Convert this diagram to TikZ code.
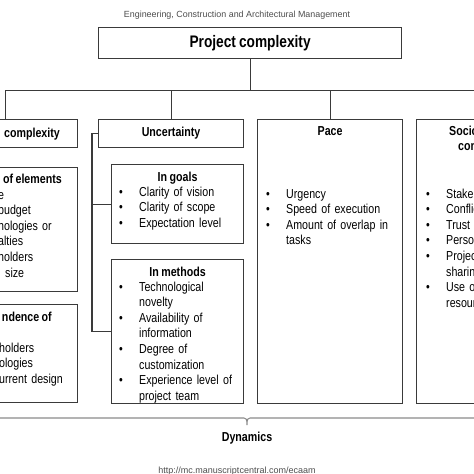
\documentclass[tikz,border=0pt]{standalone}
\usepackage{fontspec}
\setmainfont{Liberation Sans}[FakeStretch=0.82, WordSpace=0.82]
\newfontfamily\plainsans{Liberation Sans}
\usetikzlibrary{positioning}
\definecolor{linegray}{HTML}{3A3A3A}
\definecolor{bracegray}{HTML}{8A8A8A}
\definecolor{textgray}{HTML}{4D4D4D}
\newcommand{\bul}{\makebox[20pt][l]{\textbullet}}
\newcommand{\cont}{\hspace*{20pt}}

\begin{document}
\begin{tikzpicture}[x=1pt,y=-1pt]
	\tikzstyle{box}=[draw=linegray, line width=1.2pt, rectangle, inner sep=0pt, anchor=north west]
	\tikzstyle{head}=[font=\fontsize{13}{15.5}\selectfont\bfseries, inner sep=0pt]
	\tikzstyle{items}=[font=\fontsize{13}{15.6}\selectfont, inner sep=0pt, align=left, text width=130pt, anchor=base west]
	\tikzstyle{link}=[draw=linegray, line width=1.2pt]
	\tikzstyle{brace}=[draw=bracegray, line width=1.1pt]
	\tikzstyle{journal}=[font=\plainsans\fontsize{8.9}{10}\selectfont, text=textgray, inner sep=0pt, anchor=base]

	\useasboundingbox (0,0) rectangle (474,474);
	\clip (0,0) rectangle (474,474);

	\node[journal] (jname) at (237,17.5) {Engineering, Construction and Architectural Management};
	\node[box, minimum width=303pt, minimum height=31pt, font=\fontsize{16.7}{18}\selectfont\bfseries] (proj) at (98,27) {Project complexity};

	% five dimensions
	\node[box, minimum width=145pt, minimum height=28pt] (struct) at (-68,119) {};
	\node[head, anchor=base east] (structhead) at (60,137) {complexity};
	\node[box, minimum width=145pt, minimum height=28pt, head] (unc) at (98,119) {Uncertainty};
	\node[box, minimum width=145pt, minimum height=284pt] (pace) at (257,119) {};
	\node[head, below=7.5pt of pace.north] (pacehead) {Pace};
	\node[box, minimum width=145pt, minimum height=284pt] (social) at (416,119) {};
	\node[head, align=left, text width=60pt, anchor=base west] (socialhead) at (449,135) {Socio\\\hspace*{9pt}comp};

	% structural complexity
	\node[box, minimum width=132pt, minimum height=124pt] (elems) at (-55,167) {};
	\node[head, anchor=base east] (elemshead) at (62,183) {of elements};
	\node[items] (elemslist) at (-2,199) {e\\budget\\nologies or\\alties\\holders\\\hspace*{7pt}size};
	\node[box, minimum width=132pt, minimum height=98pt] (inter) at (-55,304) {};
	\node[head, anchor=base east] (interhead) at (52,321) {ndence of};
	\node[items] (interlist) at (-1,352) {holders\\ologies\\urrent design};

	% uncertainty
	\node[box, minimum width=132pt, minimum height=79pt] (goals) at (111,164) {};
	\node[head, below=8pt of goals.north] (goalshead) {In goals};
	\node[items] (goalslist) at (119,196) {\bul Clarity of vision\\\bul Clarity of scope\\\bul Expectation level};
	\node[box, minimum width=132pt, minimum height=144pt] (methods) at (111,259) {};
	\node[head, below=8pt of methods.north] (methodshead) {In methods};
	\node[items] (methodslist) at (119,291) {\bul Technological\\\cont novelty\\\bul Availability of\\\cont information\\\bul Degree of\\\cont customization\\\bul Experience level of\\\cont project team};

	% pace
	\node[items] (pacelist) at (266,198) {\bul Urgency\\\bul Speed of execution\\\bul Amount of overlap in\\\cont tasks};

	% socio-political
	\node[items] (sociallist) at (426,198) {\bul Stakeh\\\bul Conflic\\\bul Trust a\\\bul Person\\\bul Project\\\cont sharing\\\bul Use of\\\cont resour};

	\draw[link] (proj.south) -- ++(0,31) -| (struct.north);
	\draw[link] (proj.south) -- ++(0,31) -| (unc.north);
	\draw[link] (proj.south) -- ++(0,31) -| (pace.north);
	\draw[link] (proj.south) -- ++(0,31) -| (social.north);

	\draw[link] (unc.west) -- ++(-6,0) |- (methods.west);
	\draw[link] (goals.west) -- ++(-19,0);

	% dynamics
	\node[head] (dyn) at (247,438) {Dynamics};
	\coordinate (dynL) at (-2,418);
	\coordinate (dynR) at (476,418);
	\coordinate (dyntip) at (247,425);
	\draw[brace] (dynL) -- (244,418) to[out=0,in=90] (247,421.5) -- (dyntip);
	\draw[brace] (dynR) -- (250,418) to[out=180,in=90] (247,421.5);

	\node[journal, font=\plainsans\fontsize{9}{10}\selectfont] (url) at (237,473.5) {http://mc.manuscriptcentral.com/ecaam};
\end{tikzpicture}
\end{document}
